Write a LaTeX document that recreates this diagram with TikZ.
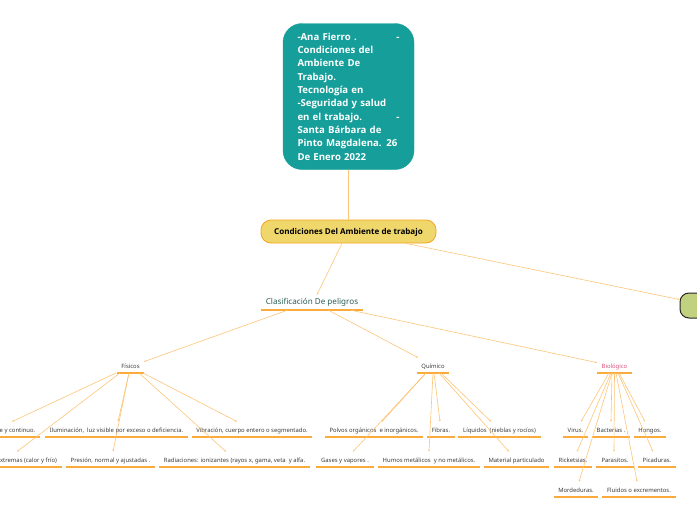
\documentclass[tikz,border=0pt]{standalone}
\usepackage{fontspec}
\setmainfont{Noto Sans}
\newfontfamily\headfont{Open Sans}
\usetikzlibrary{arrows.meta}
\definecolor{rootteal}{HTML}{169F9A}
\definecolor{mainyellow}{HTML}{EFD76B}
\definecolor{mainborder}{HTML}{F5A31E}
\definecolor{sidegreen}{HTML}{C2D17F}
\definecolor{linkorange}{HTML}{FCC477}
\definecolor{ruleorange}{HTML}{FBAA3C}
\definecolor{clasgreen}{HTML}{2A5C52}
\definecolor{biorose}{HTML}{D5527A}
\definecolor{leafgray}{HTML}{3C3C3C}
\tikzset{
  leaf/.style={anchor=south,inner sep=0,minimum height=15,minimum width=#1,text=leafgray,
    text height=7,text depth=1,font=\fontsize{5.9}{7}\selectfont,
    append after command={(\tikzlastnode.south west) edge[draw=ruleorange,line width=1.2] (\tikzlastnode.south east)}},
}
\begin{document}
\begin{tikzpicture}[x=1pt,y=-1pt]
        \useasboundingbox (0,0) rectangle (697,520);
        \begin{scope}
                \node[fill=rootteal,draw=rootteal,rounded corners=19,minimum width=131,minimum height=146,inner sep=0,text width=102,text depth=120.2,align=left,text=white,font=\fontsize{9.6}{13.35}\headfont\bfseries] (root) at (348.5,96.5) {-Ana Fierro .\hfill-\\Condiciones del\\Ambiente De\\Trabajo.\\Tecnología en\\-Seguridad y salud\\en el trabajo.\hfill-\\Santa Bárbara de\\Pinto Magdalena. 26\\De Enero 2022};
                \node[fill=mainyellow,draw=mainborder,line width=.8,rounded corners=10,minimum width=175,minimum height=23,inner sep=0,text height=6.5,text depth=0,font=\fontsize{8.05}{9}\headfont\bfseries] (main) at (348.5,231.5) {Condiciones Del Ambiente de trabajo};
                \node[fill=sidegreen,draw=black!85,line width=1,rounded corners=9,minimum width=60,minimum height=25,inner sep=0] (side) at (710,305.5) {};
                \node[leaf=102,text=clasgreen,text height=5,font=\fontsize{8.1}{9}\selectfont] (clas) at (312,310) {Clasificación De peligros};
                \node[leaf=27] (fis) at (130.5,373) {Físicos};
                \node[leaf=32] (qui) at (433,373) {Químico};
                \node[leaf=35,text=biorose] (bio) at (614.5,373) {Biológico};
                % fisicos
                \node[leaf=45] (rui) at (17.5,437) {e y continuo.};
                \node[leaf=143] (ilu) at (116.5,437) {Iluminación,~ luz visible por exceso o deficiencia.};
                \node[leaf=120] (vib) at (252,437) {Vibración, cuerpo entero o segmentado.};
                \node[leaf=67] (tem) at (28.5,467) {xtremas (calor y frío)};
                \node[leaf=89] (pre) at (110.5,467) {Presión, normal y ajustadas .};
                \node[leaf=151] (rad) at (234.5,467) {Radiaciones: ionizantes (rayos x, gama, veta~ y alfa.};
                % quimico
                \node[leaf=98] (pol) at (374,437) {Polvos orgánicos~ e inorgánicos.};
                \node[leaf=28] (fib) at (441,437) {Fibras.};
                \node[leaf=83] (liq) at (499.5,437) {Líquidos~ (nieblas y rocíos)};
                \node[leaf=58] (gas) at (345,467) {Gases y vapores .};
                \node[leaf=102] (hum) at (429,467) {Humos metálicos~ y no metálicos.};
                \node[leaf=65] (mat) at (516.5,467) {Material particulado};
                % biologico
                \node[leaf=25] (vir) at (575.5,437) {Virus.};
                \node[leaf=38] (bac) at (611,437) {Bacterias .};
                \node[leaf=32] (hon) at (650,437) {Hongos.};
                \node[leaf=38] (ric) at (573,467) {Ricketsias.};
                \node[leaf=38] (par) at (615,467) {Parasitos.};
                \node[leaf=38] (pic) at (657,467) {Picaduras.};
                \node[leaf=44] (mor) at (576,497) {Mordeduras.};
                \node[leaf=74] (flu) at (639,497) {Fluidos o excrementos.};
        \end{scope}
        \begin{scope}[every edge/.style={draw=linkorange,line width=.6,-{Stealth[length=2,width=2]}}]
                \path (root) edge (main);
                \path ([xshift=-6.5]main.south) edge ([xshift=5]clas.north);
                \path ([xshift=57.5]main.south) edge ([yshift=6]side.west);
                \path ([xshift=-24]clas.south) edge ([xshift=13.5,yshift=-4]fis.north);
                \path ([xshift=16]clas.south) edge ([xshift=-15]qui.north);
                \path ([xshift=38]clas.south) edge ([xshift=-17.5,yshift=-5]bio.north);
                \path ([xshift=-14.5]fis.south) edge ([xshift=-5.5]rui.north);
                \path ([xshift=-1.5]fis.south) edge ([xshift=1.5]ilu.north);
                \path ([xshift=12.5]fis.south) edge ([xshift=-15]vib.north);
                \path ([xshift=-10.5]fis.south) edge ([xshift=-11.5]tem.north);
                \path ([xshift=-1.5]fis.south) edge ([xshift=2.5]pre.north);
                \path ([xshift=8.5]fis.south) edge ([xshift=-8.5]rad.north);
                \path ([xshift=-7]qui.south) edge ([xshift=8]pol.north);
                \path ([xshift=1]qui.south) edge ([xshift=-1]fib.north);
                \path ([xshift=8]qui.south) edge ([xshift=-8.5]liq.north);
                \path ([xshift=-7]qui.south) edge ([xshift=8]gas.north);
                \path ([xshift=0]qui.south) edge (hum.north);
                \path ([xshift=6]qui.south) edge ([xshift=-7.5]mat.north);
                \path ([xshift=-5.5]bio.south) edge ([xshift=5.5]vir.north);
                \path ([xshift=-2.5]bio.south) edge (bac.north);
                \path ([xshift=4.5]bio.south) edge ([xshift=-5]hon.north);
                \path ([xshift=-3.5]bio.south) edge ([xshift=4]ric.north);
                \path (bio.south) edge ([xshift=-1]par.north);
                \path ([xshift=3.5]bio.south) edge ([xshift=-4]pic.north);
                \path ([xshift=-2.5]bio.south) edge ([xshift=3]mor.north);
                \path ([xshift=1.5]bio.south) edge ([xshift=-2]flu.north);
        \end{scope}
\end{tikzpicture}
\end{document}
